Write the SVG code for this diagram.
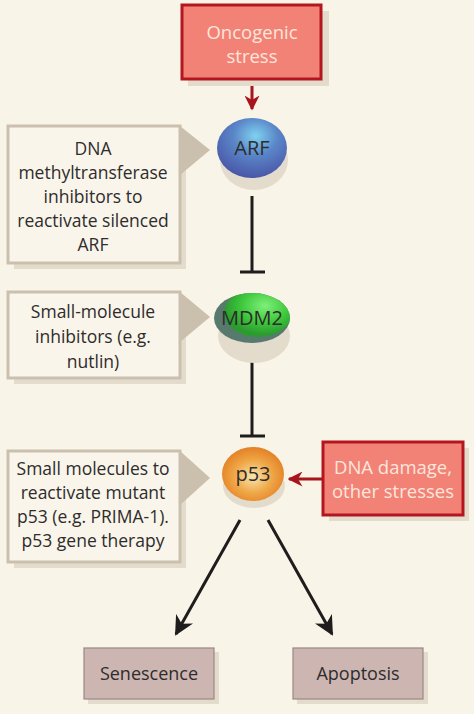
<svg xmlns="http://www.w3.org/2000/svg" width="474" height="714" viewBox="0 0 474 714">
<defs>
<style>
text{font-family:"Open Sans","Liberation Sans",sans-serif;font-size:17.5px;fill:#2e2c2c;text-anchor:middle}
.wt{fill:#fde6dc;font-size:18.5px}
.lbl{font-size:20px}
.out-t{font-size:18px}
.note{fill:#f9f5ea;stroke:#cbbfae;stroke-width:3}
.ptr{fill:#cbbfae}
.shadow{fill:#e3dccd}
.red{fill:#f28276;stroke:#b3161f;stroke-width:3}
.out{fill:#cdb6b2;stroke:#9a8784;stroke-width:1.2}
.inh{stroke:#1e1c1c;stroke-width:3;fill:none}
.act{stroke:#1e1c1c;stroke-width:3;fill:none}
.ract{stroke:#a8141c;stroke-width:3;fill:none}
</style>
<marker id="ah" viewBox="0 0 10 10" refX="9" refY="5" markerWidth="6.5" markerHeight="6.5" orient="auto" markerUnits="strokeWidth"><path d="M0,0 L10,5 L0,10 L3,5 z" fill="#1e1c1c"/></marker>
<marker id="rah" viewBox="0 0 10 10" refX="9" refY="5" markerWidth="5" markerHeight="5" orient="auto" markerUnits="strokeWidth"><path d="M0,0 L10,5 L0,10 L3,5 z" fill="#a8141c"/></marker>
<radialGradient id="gArf" cx="0.55" cy="0.3" r="0.7"><stop offset="0" stop-color="#7fd2f0"/><stop offset="0.45" stop-color="#5a86c8"/><stop offset="1" stop-color="#4a56a8"/></radialGradient>
<radialGradient id="gMdm" cx="0.6" cy="0.35" r="0.6"><stop offset="0" stop-color="#7ef07a"/><stop offset="0.6" stop-color="#3cc63a"/><stop offset="1" stop-color="#2c9a30"/></radialGradient>
<radialGradient id="gP53" cx="0.5" cy="0.55" r="0.6"><stop offset="0" stop-color="#f7e6b0"/><stop offset="0.5" stop-color="#f0a848"/><stop offset="1" stop-color="#e0781e"/></radialGradient>
<clipPath id="cMdm"><ellipse cx="252" cy="318" rx="38" ry="25"/></clipPath>
</defs>
<rect width="474" height="714" fill="#f8f4e8"/>

<g id="connectors">
<line class="ract" x1="252" y1="80" x2="252" y2="109" marker-end="url(#rah)"/>
<line class="inh" x1="252" y1="196" x2="252" y2="272"/>
<line class="inh" x1="240" y1="272" x2="265" y2="272"/>
<line class="inh" x1="252" y1="361" x2="252" y2="436"/>
<line class="inh" x1="240" y1="436" x2="265" y2="436"/>
<line class="ract" x1="322" y1="479" x2="289" y2="479" marker-end="url(#rah)"/>
<line class="act" x1="240" y1="520" x2="176" y2="634" marker-end="url(#ah)"/>
<line class="act" x1="268" y1="520" x2="332" y2="634" marker-end="url(#ah)"/>
</g>

<g id="oncogenic">
<rect class="shadow" x="188" y="11" width="141" height="75"/>
<rect class="red" x="182" y="5" width="139" height="74"/>
<text class="wt" x="252" y="39">Oncogenic</text>
<text class="wt" x="252" y="63">stress</text>
</g>

<g id="arf">
<ellipse class="shadow" cx="254" cy="160" rx="34" ry="30"/>
<ellipse cx="252" cy="148" rx="35" ry="30" fill="url(#gArf)"/>
<text class="lbl" x="252" y="155">ARF</text>
</g>

<g id="mdm2">
<ellipse class="shadow" cx="254" cy="336" rx="36" ry="27"/>
<ellipse cx="252" cy="318" rx="38" ry="25" fill="#587a6e"/>
<ellipse cx="258" cy="313" rx="34" ry="24" fill="url(#gMdm)" clip-path="url(#cMdm)"/>
<text class="lbl" x="252" y="325">MDM2</text>
</g>

<g id="p53">
<ellipse class="shadow" cx="254" cy="486" rx="31" ry="22"/>
<ellipse cx="253" cy="474" rx="31" ry="27" fill="url(#gP53)"/>
<text class="lbl" x="253" y="481">p53</text>
</g>

<g id="dnamt">
<rect class="shadow" x="14" y="132" width="172" height="137"/>
<rect class="note" x="8" y="126" width="172" height="137"/>
<polygon class="ptr" points="180,126 210,150 180,175"/>
<text x="93" y="155">DNA</text>
<text x="93" y="179">methyltransferase</text>
<text x="93" y="203">inhibitors to</text>
<text x="93" y="227">reactivate silenced</text>
<text x="93" y="251">ARF</text>
</g>

<g id="smallmol">
<rect class="shadow" x="14" y="298" width="172" height="86"/>
<rect class="note" x="8" y="292" width="172" height="86"/>
<polygon class="ptr" points="180,292 210,317 180,342"/>
<text x="93" y="318">Small-molecule</text>
<text x="93" y="343">inhibitors (e.g.</text>
<text x="93" y="368">nutlin)</text>
</g>

<g id="smallmols">
<rect class="shadow" x="14" y="457" width="172" height="111"/>
<rect class="note" x="8" y="451" width="172" height="111"/>
<polygon class="ptr" points="180,451 210,478 180,505"/>
<text x="93" y="475">Small molecules to</text>
<text x="93" y="499">reactivate mutant</text>
<text x="93" y="523">p53 (e.g. PRIMA-1).</text>
<text x="93" y="547">p53 gene therapy</text>
</g>

<g id="dnadamage">
<rect class="shadow" x="329" y="448" width="140" height="73"/>
<rect class="red" x="323" y="442" width="140" height="73"/>
<text class="wt" x="393" y="474">DNA damage,</text>
<text class="wt" x="393" y="498">other stresses</text>
</g>

<g id="senescence">
<rect class="shadow" x="88" y="652" width="131" height="52"/>
<rect class="out" x="84" y="648" width="130" height="51"/>
<text class="out-t" x="149" y="680">Senescence</text>
</g>

<g id="apoptosis">
<rect class="shadow" x="297" y="652" width="131" height="52"/>
<rect class="out" x="293" y="648" width="130" height="51"/>
<text class="out-t" x="358" y="680">Apoptosis</text>
</g>
</svg>
